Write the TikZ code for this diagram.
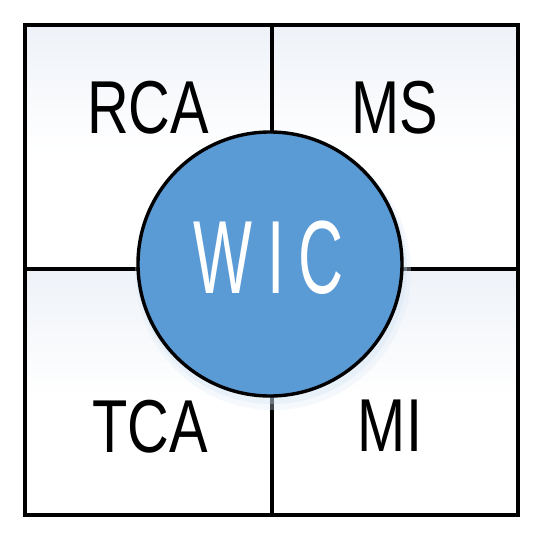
\documentclass[tikz,border=0pt]{standalone}
\usepackage{fontspec}
\setmainfont{Liberation Sans}
\definecolor{wicblue}{RGB}{91,155,213}
\definecolor{quadtop}{RGB}{238,242,248}
\tikzset{
  quad/.style={top color=quadtop, bottom color=white, middle color=white!97!quadtop, draw=none},
  frame/.style={line width=3.4pt, draw=black},
  lbl/.style={inner sep=0pt, font=\fontsize{75}{75}\selectfont},
  hub/.style={circle, minimum size=264pt, inner sep=0pt, fill=wicblue, draw=black, line width=3.4pt}
}
\begin{document}
\begin{tikzpicture}[x=1pt,y=-1pt]
\useasboundingbox (0,0) rectangle (543,550);
\fill[white] (0,0) rectangle (543,550);
\coordinate (tl) at (25,25);
\coordinate (br) at (518,515);
\coordinate (top) at (272,25);
\coordinate (bot) at (272,515);
\coordinate (lft) at (25,269);
\coordinate (rgt) at (518,269);
\shade[quad] (25,25) rectangle (272,269);
\shade[quad] (272,25) rectangle (518,269);
\shade[quad] (25,269) rectangle (272,515);
\shade[quad] (272,269) rectangle (518,515);
\draw[frame] (tl) rectangle (br);
\draw[frame] (top) -- (bot);
\draw[frame] (lft) -- (rgt);
\fill[wicblue!20, opacity=0.3] (273,272) circle (138);
\fill[wicblue!30, opacity=0.3] (272,269) circle (135);
\node[hub] (wic) at (270,264) {};
\node[text=white, inner sep=0pt, font=\fontsize{104}{104}\selectfont] (wict) at (269,258) {\scalebox{0.6}[1]{W\hspace{24pt}I\hspace{24pt}C}};
\node[lbl] (rca) at (148,108) {\scalebox{0.77}[1]{RCA}};
\node[lbl] (ms) at (395,108) {\scalebox{0.77}[1]{MS}};
\node[lbl] (tca) at (150,427) {\scalebox{0.77}[1]{TCA}};
\node[lbl] (mi) at (390,426) {\scalebox{0.77}[1]{MI}};
\end{tikzpicture}
\end{document}
